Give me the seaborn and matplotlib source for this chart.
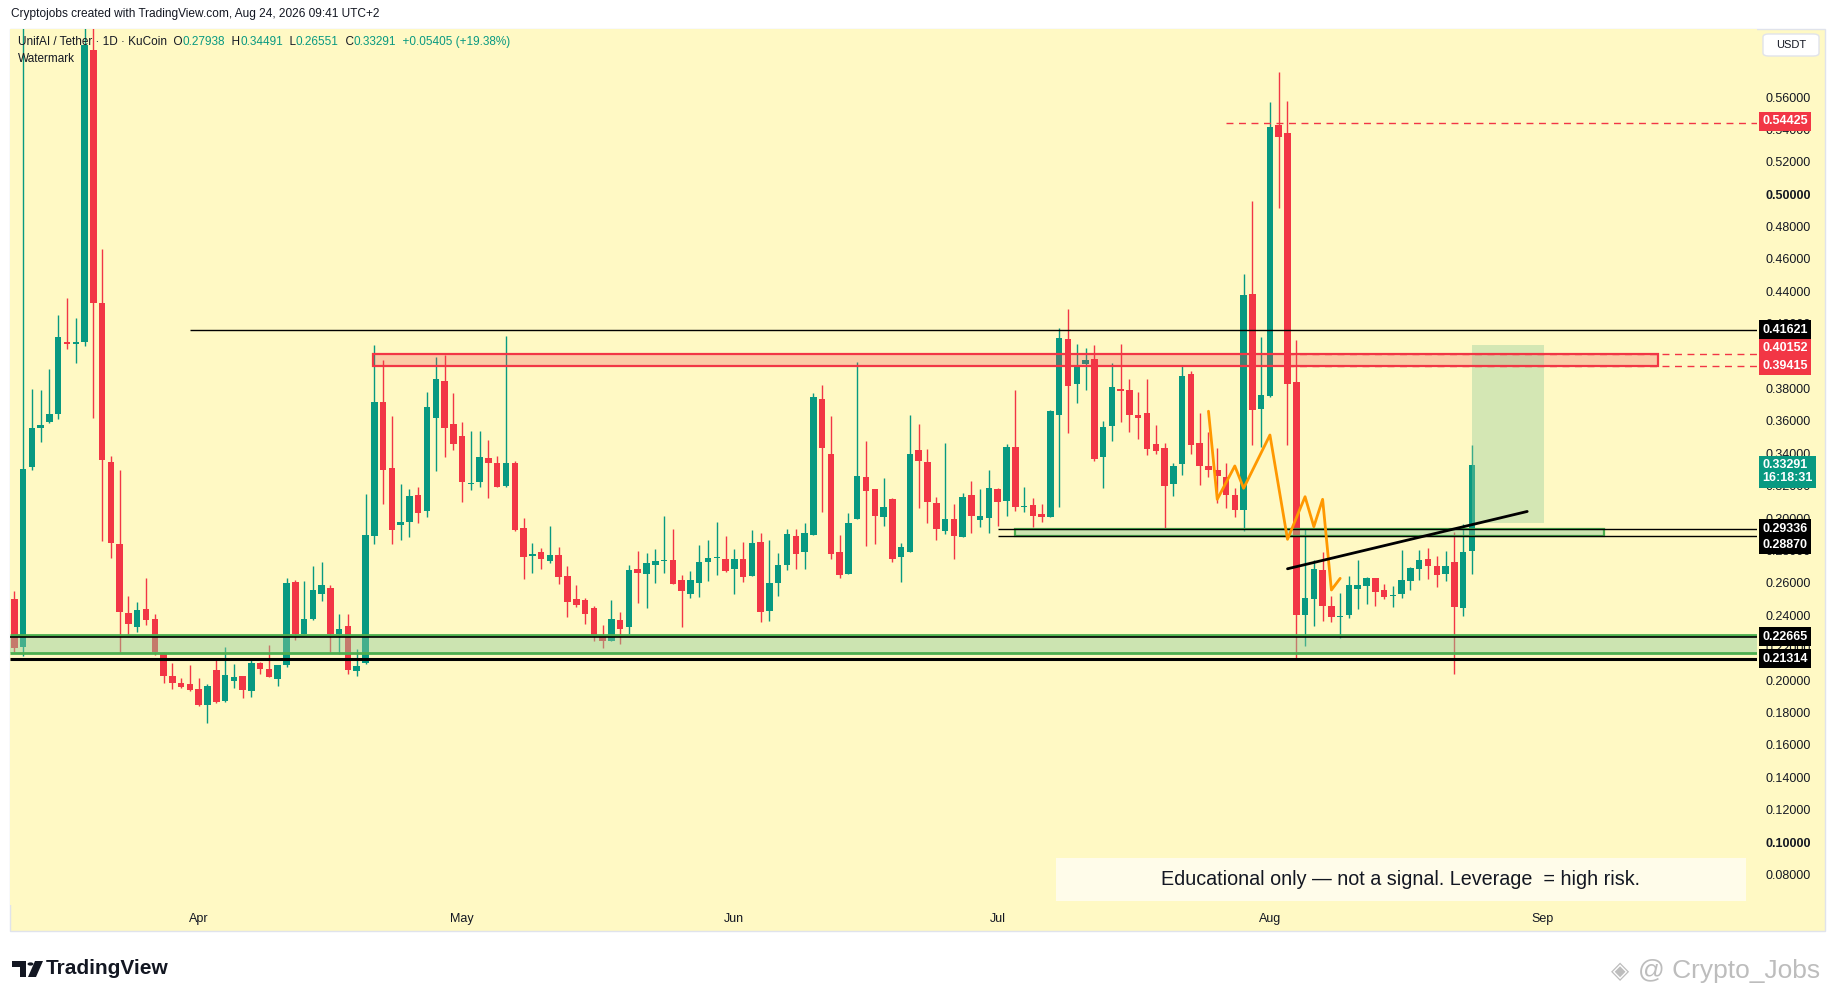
import numpy as np
import pandas as pd
import matplotlib
matplotlib.use("Agg")
import matplotlib.pyplot as plt
import matplotlib.patches as mpatches
import matplotlib.transforms as mtrans
from matplotlib.ticker import FormatStrFormatter
import seaborn as sns

# daily OHLC, UnifAI / Tether, KuCoin, 11 Mar - 24 Aug 2026
opens = [0.250, 0.2203, 0.3313, 0.3554, 0.3593, 0.3643, 0.4085, 0.4075, 0.4085, 0.589,
         0.433, 0.3347, 0.2841, 0.2413, 0.2329, 0.2438, 0.2377, 0.2167, 0.2026, 0.1979,
         0.1977, 0.1943, 0.1843, 0.2059, 0.1869, 0.1992, 0.2026, 0.1935, 0.2103, 0.2066,
         0.2008, 0.2093, 0.2605, 0.2284, 0.2377, 0.2531, 0.2568, 0.2284, 0.2334, 0.2058,
         0.2107, 0.2889, 0.3717, 0.3309, 0.2958, 0.2976, 0.3143, 0.3044, 0.3619, 0.3847,
         0.3581, 0.3507, 0.3208, 0.3223, 0.3371, 0.334, 0.3198, 0.334, 0.2939, 0.2768,
         0.279, 0.2737, 0.2772, 0.2642, 0.25, 0.2494, 0.2445, 0.227, 0.2243, 0.2371,
         0.2329, 0.2685, 0.2657, 0.2712, 0.2733, 0.2741, 0.2618, 0.2533, 0.2601, 0.2731,
         0.2751, 0.2747, 0.2685, 0.2747, 0.2642, 0.2852, 0.2426, 0.2599, 0.271, 0.2889,
         0.2792, 0.2897, 0.3736, 0.3396, 0.2791, 0.2657, 0.2996, 0.3254, 0.318, 0.3009,
         0.3118, 0.2761, 0.2792, 0.342, 0.3346, 0.3093, 0.2922, 0.2994, 0.2885, 0.3142,
         0.299, 0.3003, 0.318, 0.3107, 0.3439, 0.3068, 0.3081, 0.3027, 0.3009, 0.3637,
         0.4106, 0.3828, 0.3952, 0.3982, 0.3377, 0.3569, 0.3797, 0.3791, 0.3637, 0.3649,
         0.3457, 0.3433, 0.3211, 0.3334, 0.3889, 0.3464, 0.3322, 0.3297, 0.3254, 0.3143,
         0.305, 0.4384, 0.3674, 0.3754, 0.5427, 0.5378, 0.384, 0.2402, 0.2503, 0.2679,
         0.2457, 0.2391, 0.2402, 0.2562, 0.258, 0.263, 0.2556, 0.252, 0.2532, 0.2612,
         0.2685, 0.2747, 0.2704, 0.2657, 0.2729, 0.2445, 0.27938]
highs = [0.255, 0.75, 0.380, 0.379, 0.392, 0.4255, 0.436, 0.4236, 0.70, 0.68,
         0.466, 0.3386, 0.330, 0.252, 0.248, 0.263, 0.2407, 0.2172, 0.2105, 0.2014,
         0.209, 0.201, 0.1975, 0.2134, 0.2203, 0.210, 0.2028, 0.2125, 0.2112, 0.2216,
         0.2095, 0.263, 0.2617, 0.261, 0.2704, 0.273, 0.2585, 0.2406, 0.2406, 0.219,
         0.315, 0.407, 0.3976, 0.363, 0.321, 0.318, 0.3192, 0.378, 0.3995, 0.4007,
         0.377, 0.3593, 0.354, 0.354, 0.348, 0.3383, 0.4124, 0.3352, 0.300, 0.2846,
         0.2815, 0.2951, 0.2821, 0.2704, 0.2587, 0.2506, 0.2457, 0.234, 0.2494, 0.242,
         0.271, 0.2796, 0.2784, 0.281, 0.3013, 0.2933, 0.265, 0.2673, 0.2834, 0.2865,
         0.2976, 0.289, 0.281, 0.2852, 0.2927, 0.2908, 0.2865, 0.2786, 0.2932, 0.2932,
         0.297, 0.3772, 0.3822, 0.3631, 0.2896, 0.3031, 0.3964, 0.3476, 0.318, 0.3248,
         0.3124, 0.2846, 0.3637, 0.3581, 0.3426, 0.313, 0.3464, 0.3087, 0.3155, 0.3229,
         0.318, 0.3297, 0.3186, 0.3458, 0.3791, 0.3192, 0.3124, 0.3087, 0.3667, 0.4174,
         0.4291, 0.4075, 0.405, 0.4069, 0.36, 0.3958, 0.4075, 0.3859, 0.3779, 0.3859,
         0.3575, 0.3464, 0.334, 0.3945, 0.3908, 0.3649, 0.3532, 0.3433, 0.334, 0.3186,
         0.4507, 0.4958, 0.4118, 0.5569, 0.5755, 0.5575, 0.4100, 0.2933, 0.2741, 0.279,
         0.2519, 0.2537, 0.2643, 0.2741, 0.2636, 0.2632, 0.2593, 0.258, 0.2803, 0.2698,
         0.2803, 0.2815, 0.2766, 0.2797, 0.2914, 0.2964, 0.34491]
lows = [0.2175, 0.2147, 0.330, 0.3467, 0.359, 0.361, 0.4046, 0.396, 0.4062, 0.362,
        0.286, 0.2754, 0.2175, 0.228, 0.2296, 0.2337, 0.2153, 0.198, 0.1947, 0.195,
        0.1932, 0.184, 0.1737, 0.186, 0.1865, 0.195, 0.1887, 0.1896, 0.2035, 0.202,
        0.1965, 0.2082, 0.2247, 0.2284, 0.2371, 0.249, 0.2171, 0.216, 0.2035, 0.2027,
        0.2097, 0.284, 0.3087, 0.284, 0.2865, 0.2883, 0.297, 0.3007, 0.329, 0.3377,
        0.342, 0.310, 0.3174, 0.319, 0.3124, 0.319, 0.319, 0.292, 0.2626, 0.2663,
        0.2687, 0.2724, 0.2595, 0.2391, 0.2453, 0.2348, 0.2241, 0.22, 0.224, 0.2224,
        0.2284, 0.2477, 0.2447, 0.26, 0.2663, 0.2595, 0.2329, 0.2508, 0.2515, 0.2613,
        0.265, 0.2667, 0.2533, 0.2605, 0.264, 0.2358, 0.2366, 0.2521, 0.2679, 0.2686,
        0.2686, 0.2897, 0.304, 0.2749, 0.2632, 0.2655, 0.2994, 0.2829, 0.2842, 0.2953,
        0.2731, 0.2607, 0.279, 0.3064, 0.2972, 0.2867, 0.2904, 0.2749, 0.2885, 0.291,
        0.2947, 0.291, 0.2953, 0.3015, 0.3046, 0.304, 0.2947, 0.2978, 0.3005, 0.307,
        0.3527, 0.3713, 0.3791, 0.3353, 0.3186, 0.3476, 0.3594, 0.3532, 0.3489, 0.3389,
        0.3395, 0.2934, 0.3136, 0.3266, 0.3395, 0.3204, 0.3254, 0.3093, 0.3062, 0.3006,
        0.2922, 0.3451, 0.3439, 0.375, 0.4915, 0.3451, 0.2124, 0.221, 0.2334, 0.2365,
        0.2358, 0.226, 0.2383, 0.2439, 0.247, 0.2457, 0.25, 0.2451, 0.2507, 0.2556,
        0.2618, 0.2624, 0.2574, 0.2612, 0.2037, 0.2395, 0.26551]
closes = [0.2195, 0.3302, 0.3554, 0.3573, 0.3643, 0.4118, 0.4075, 0.4085, 0.592, 0.433,
          0.336, 0.2844, 0.2418, 0.2349, 0.2432, 0.2371, 0.2172, 0.2026, 0.1979, 0.1957,
          0.1938, 0.1843, 0.1966, 0.1866, 0.2031, 0.2020, 0.1938, 0.2105, 0.2066, 0.2021,
          0.2093, 0.2599, 0.2284, 0.2377, 0.2556, 0.2585, 0.2284, 0.2313, 0.2062, 0.2087,
          0.2896, 0.3717, 0.3297, 0.2926, 0.2976, 0.3137, 0.3032, 0.3686, 0.3859, 0.3557,
          0.3457, 0.3223, 0.3215, 0.3377, 0.334, 0.3192, 0.334, 0.2926, 0.2762, 0.2778,
          0.2747, 0.2772, 0.2638, 0.2484, 0.2463, 0.2408, 0.2279, 0.2243, 0.2377, 0.2317,
          0.2679, 0.2663, 0.2722, 0.2735, 0.2737, 0.2595, 0.2552, 0.2618, 0.2729, 0.2753,
          0.2755, 0.2673, 0.2747, 0.2636, 0.2846, 0.242, 0.2599, 0.271, 0.2901, 0.278,
          0.2907, 0.3748, 0.3435, 0.278, 0.2651, 0.297, 0.326, 0.3169, 0.3015, 0.3069,
          0.2749, 0.2821, 0.3396, 0.3355, 0.3101, 0.2934, 0.2994, 0.2891, 0.313, 0.3015,
          0.3013, 0.3186, 0.3101, 0.3439, 0.307, 0.3072, 0.3015, 0.3009, 0.3661, 0.4112,
          0.3816, 0.3939, 0.3976, 0.3365, 0.3563, 0.381, 0.3785, 0.3637, 0.3618, 0.3426,
          0.3414, 0.3198, 0.3322, 0.3877, 0.3451, 0.3322, 0.3297, 0.326, 0.3143, 0.305,
          0.4378, 0.3667, 0.376, 0.5415, 0.5355, 0.3828, 0.2402, 0.2507, 0.2685, 0.2457,
          0.2389, 0.2397, 0.2587, 0.2587, 0.263, 0.2544, 0.2513, 0.2526, 0.2618, 0.2692,
          0.2741, 0.2704, 0.2651, 0.2704, 0.2451, 0.2791, 0.33291]
first_day = "2026-03-11"

# drawn levels / tools (prices), with start/end in days from first candle
res_level = 0.41621
res_start = 20
supply_zone = [0.39415, 0.40152]
supply_span = [40.9, 187.2]
spike_level = 0.54425
spike_start = 138
flip_zone = [0.28870, 0.29336]
flip_span = [114, 181]
flip_lines_start = 112
demand_zone = [0.2169, 0.2278]
demand_lines = [0.22665, 0.21314]
target_box = [166, 174.2, 0.297, 0.4067]
trend_x = [145, 172.3]
trend_y = [0.2687, 0.3041]
path_x = [136, 137, 139, 140, 143, 145, 147, 148, 149, 150, 151]
path_y = [0.366, 0.3116, 0.3322, 0.3184, 0.3513, 0.2869, 0.3132, 0.2947, 0.3116, 0.2556, 0.2628]

UP = "#089981"
DOWN = "#F23645"
BG = "#FFF9C4"
INK = "#131722"
ZONE = "#8FCB9B"

df = pd.DataFrame({"date": pd.date_range(first_day, periods=len(opens), freq="D"),
                   "open": opens, "high": highs, "low": lows, "close": closes})
df["x"] = (df["date"] - df["date"].iloc[0]).dt.days
df["col"] = np.where(df["close"] >= df["open"], UP, DOWN)

sns.set_theme(style="white")
plt.rcParams["font.family"] = ["Liberation Sans", "DejaVu Sans"]

W, H = 1835, 1000
fig = plt.figure(figsize=(W / 100, H / 100), dpi=100)
fig.patch.set_facecolor("white")

# pane background incl. scales
fig.patches.append(mpatches.Rectangle((10 / W, 1 - 931 / H), 1815 / W, 902 / H,
                                      transform=fig.transFigure, facecolor=BG,
                                      edgecolor="#E0E3EB", lw=1, zorder=-5))

ax = fig.add_axes([10 / W, 1 - 905 / H, 1747 / W, 876 / H])
ax.set_facecolor(BG)
for s in ax.spines.values():
    s.set_visible(False)
ax.set_xlim(-0.49, 198.47)
ax.set_ylim(0.0611, 0.6020)

# candles
body_lo = df[["open", "close"]].min(axis=1)
body_h = (df["close"] - df["open"]).abs().clip(lower=0.0007)
ax.vlines(df["x"], df["low"], df["high"], colors=df["col"], lw=1.0, zorder=2)
ax.bar(df["x"], body_h, bottom=body_lo, width=0.74, color=df["col"], lw=0, zorder=2)

xmin, xmax = ax.get_xlim()

# demand band
ax.add_patch(mpatches.Rectangle((xmin, demand_zone[0]), xmax - xmin, demand_zone[1] - demand_zone[0],
                                facecolor=ZONE, alpha=0.45, lw=0, zorder=3))
ax.hlines(demand_zone, xmin, xmax, colors="#4CAF50", lw=2, zorder=4)
ax.hlines(demand_lines[0], xmin, xmax, colors="black", lw=1.2, zorder=4)
ax.hlines(demand_lines[1], xmin, xmax, colors="black", lw=2.2, zorder=4)

# supply zone
ax.add_patch(mpatches.Rectangle((supply_span[0], supply_zone[0]), supply_span[1] - supply_span[0],
                                supply_zone[1] - supply_zone[0], facecolor=DOWN, alpha=0.23,
                                lw=0, zorder=3))
ax.add_patch(mpatches.Rectangle((supply_span[0], supply_zone[0]), supply_span[1] - supply_span[0],
                                supply_zone[1] - supply_zone[0], facecolor="none",
                                edgecolor=DOWN, lw=1.6, zorder=4))
ax.hlines(supply_zone, 145, xmax, colors=DOWN, lw=1, linestyles=(0, (5, 4)), zorder=4)
ax.hlines(spike_level, spike_start, xmax, colors=DOWN, lw=1, linestyles=(0, (5, 4)), zorder=4)
ax.hlines(res_level, res_start, xmax, colors="black", lw=1, zorder=4)

# flip zone
ax.add_patch(mpatches.Rectangle((flip_span[0], flip_zone[0]), flip_span[1] - flip_span[0],
                                flip_zone[1] - flip_zone[0], facecolor=ZONE, alpha=0.45,
                                lw=0, zorder=3))
ax.add_patch(mpatches.Rectangle((flip_span[0], flip_zone[0]), flip_span[1] - flip_span[0],
                                flip_zone[1] - flip_zone[0], facecolor="none",
                                edgecolor="#4CAF50", lw=1.6, zorder=4))
ax.hlines(flip_zone, flip_lines_start, xmax, colors="black", lw=1, zorder=4)

# target box
ax.add_patch(mpatches.Rectangle((target_box[0], target_box[2]), target_box[1] - target_box[0],
                                target_box[3] - target_box[2], facecolor=ZONE, alpha=0.38,
                                lw=0, zorder=3))

# path sketch and trendline
sns.lineplot(x=path_x, y=path_y, ax=ax, color="#FF9800", lw=2, zorder=5, sort=False)
sns.lineplot(x=trend_x, y=trend_y, ax=ax, color="black", lw=2, zorder=5)

# price scale
ax.yaxis.tick_right()
ax.set_yticks(np.round(np.arange(0.08, 0.5601, 0.02), 2))
ax.yaxis.set_major_formatter(FormatStrFormatter("%.5f"))
ax.tick_params(axis="y", length=0, pad=6, labelsize=9, labelcolor=INK)
for t in ax.get_yticklabels():
    if t.get_text() in ("0.50000", "0.10000"):
        t.set_fontweight("bold")

# time scale
months = pd.date_range("2026-04-01", "2026-09-01", freq="MS")
ax.set_xticks((months - df["date"].iloc[0]).days)
ax.set_xticklabels(months.strftime("%b"))
ax.tick_params(axis="x", length=0, pad=6, labelsize=9, labelcolor=INK)
ax.set_xlabel("")
ax.set_ylabel("")
ax.grid(False)

# price tags
tr = mtrans.blended_transform_factory(ax.transAxes, ax.transData)
tags = [(spike_level, "0.54425", DOWN, 1), (res_level, "0.41621", "black", 0),
        (supply_zone[1], "0.40152", DOWN, 4), (supply_zone[0], "0.39415", DOWN, 0),
        (flip_zone[1], "0.29336", "black", 0), (flip_zone[0], "0.28870", "black", -6),
        (demand_lines[0], "0.22665", "black", 0), (demand_lines[1], "0.21314", "black", 0)]
for y, s, c, off in tags:
    ax.annotate(s, xy=(1.0029, y), xycoords=tr, xytext=(0, off), textcoords="offset points",
                va="center", ha="left", fontsize=9, fontweight="bold", color="white",
                bbox=dict(boxstyle="square,pad=0.28", fc=c, ec="none"), zorder=10,
                annotation_clip=False)
ax.annotate("0.33291\n16:18:31", xy=(1.0029, closes[-1]), xycoords=tr, xytext=(0, -5),
            textcoords="offset points", va="center", ha="left", fontsize=9,
            fontweight="bold", color="white", linespacing=1.15,
            bbox=dict(boxstyle="square,pad=0.28", fc=UP, ec="none"), zorder=10,
            annotation_clip=False)

# disclaimer box
ax.add_patch(mpatches.Rectangle((0.5988, 0.0046), 0.3949, 0.0491, transform=ax.transAxes,
                                facecolor="#FFFCEA", lw=0, zorder=8))
ax.text(0.7962, 0.0291, "Educational only \u2014 not a signal. Leverage  = high risk.",
        transform=ax.transAxes, ha="center", va="center", fontsize=14.2, color=INK, zorder=9)

# header and legend
fig.text(11 / W, 1 - 14 / H, "Cryptojobs created with TradingView.com, Aug 24, 2026 09:41 UTC+2",
         fontsize=8.6, color=INK, va="center")
renderer = fig.canvas.get_renderer()
px = 18
pieces = [("UnifAI / Tether \u00b7 1D \u00b7 KuCoin  O", INK), ("0.27938", UP), ("  H", INK),
          ("0.34491", UP), ("  L", INK), ("0.26551", UP), ("  C", INK), ("0.33291", UP),
          ("  +0.05405 (+19.38%)", UP)]
for s, c in pieces:
    t = fig.text(px / W, 1 - 42 / H, s, fontsize=8.5, color=c, va="center")
    px = t.get_window_extent(renderer=renderer).x1
fig.text(18 / W, 1 - 59 / H, "Watermark", fontsize=8.5, color=INK, va="center")

# currency button
fig.patches.append(mpatches.FancyBboxPatch((1763 / W, 1 - 56 / H), 56 / W, 22 / H,
                                           boxstyle="round,pad=0,rounding_size=0.003",
                                           transform=fig.transFigure, facecolor="white",
                                           edgecolor="#E0E3EB", lw=1, zorder=5))
fig.text(1791 / W, 1 - 45 / H, "USDT", fontsize=8, color=INK, ha="center", va="center",
         zorder=6)

# TradingView logo
logo = [[(12, 961), (26, 961), (26, 977), (20, 977), (20, 967), (12, 967)],
        [(35, 961), (43, 961), (36, 977), (28, 977)]]
for poly in logo:
    fig.patches.append(mpatches.Polygon([(a / W, 1 - b / H) for a, b in poly], closed=True,
                                        transform=fig.transFigure, facecolor=INK, lw=0))
fig.patches.append(mpatches.Circle((30.5 / W, 1 - 964 / H), 3 / W, transform=fig.transFigure,
                                   facecolor=INK, lw=0))
fig.text(46 / W, 1 - 969 / H, "TradingView", fontsize=15, fontweight="bold", color=INK,
         va="center")

# watermark
fig.text(1820 / W, 1 - 971 / H, "@ Crypto_Jobs", fontsize=19, color="#BDBDBD",
         ha="right", va="center")
fig.text(1620 / W, 1 - 971 / H, "\u25c8", fontsize=17, color="#BDBDBD", ha="center",
         va="center", family=["DejaVu Sans"])

fig.savefig("out.png", dpi=100)
